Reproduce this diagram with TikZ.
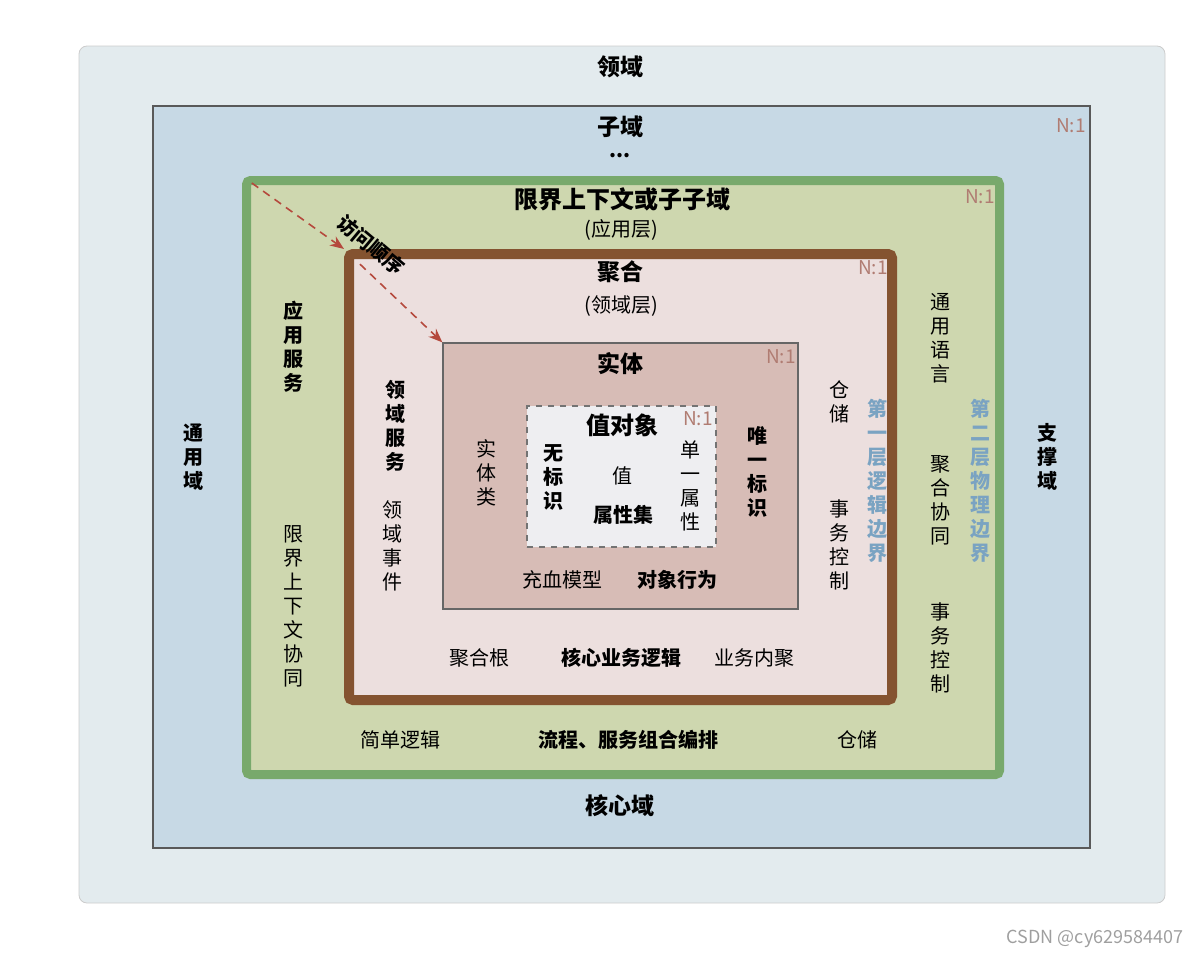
\documentclass[tikz,border=0pt]{standalone}
\usepackage{fontspec}
\usetikzlibrary{arrows.meta}
\setmainfont{Noto Sans CJK SC}
\definecolor{domainbg}{HTML}{E3EBEE}
\definecolor{subbg}{HTML}{C7D9E5}
\definecolor{ctxbg}{HTML}{CED7AF}
\definecolor{ctxline}{HTML}{78A96C}
\definecolor{aggbg}{HTML}{ECDFDE}
\definecolor{aggline}{HTML}{845330}
\definecolor{entbg}{HTML}{D7BCB6}
\definecolor{vobg}{HTML}{EEEEF1}
\definecolor{ratiocol}{HTML}{B07C72}
\definecolor{layercol}{HTML}{7AA3C2}
\definecolor{arrowcol}{HTML}{B5493D}
\begin{document}
\begin{tikzpicture}[
            x=0.5pt, y=-0.5pt,
            area/.style={
                rectangle,
                inner sep=0pt
            },
            title/.style={
                draw=none,
                font=\fontsize{11.5}{14}\selectfont\bfseries
            },
            bigtitle/.style={
                draw=none,
                font=\fontsize{12}{14}\selectfont\bfseries
            },
            item/.style={
                draw=none,
                inner sep=1pt,
                font=\fontsize{10}{12}\selectfont
            },
            bolditem/.style={
                item,
                font=\fontsize{10}{12}\selectfont\bfseries
            },
            vtext/.style={
                item,
                align=center
            },
            boldvtext/.style={
                bolditem,
                align=center
            },
            layer/.style={
                boldvtext,
                text=layercol
            },
            ratio/.style={
                draw=none,
                inner sep=0pt,
                text=ratiocol,
                font=\fontsize{9.5}{11}\selectfont
            },
            arrow/.style={->, >={Stealth[length=7pt,width=5.5pt]}, line width=0.8pt,
                draw=arrowcol, dash pattern=on 4pt off 3pt}
        ]
        \useasboundingbox (0,0) rectangle (1194,958);

        % Nested areas
        \node[area, fill=domainbg, draw=gray!40, rounded corners=4pt,
            minimum width=543pt, minimum height=428.5pt] (dom) at (622,474.5) {};
        \node[area, fill=subbg, draw=black!65, line width=0.6pt,
            minimum width=468.5pt, minimum height=371pt] (sub) at (621.5,477) {};
        \node[area, fill=ctxbg, draw=ctxline, line width=4.5pt, rounded corners=2pt,
            minimum width=376.5pt, minimum height=297pt] (ctx) at (623,477.5) {};
        \node[area, fill=aggbg, draw=aggline, line width=5pt, rounded corners=2pt,
            minimum width=271.5pt, minimum height=223pt] (agg) at (620.5,477) {};
        \node[area, fill=entbg, draw=black!60, line width=0.6pt,
            minimum width=177.5pt, minimum height=133pt] (ent) at (620.5,476) {};
        \node[area, fill=vobg, draw=black!55, dashed, line width=0.8pt,
            minimum width=94.5pt, minimum height=70.5pt] (vo) at (621.5,476.5) {};

        % Ratios
        \node[ratio] (r1) at (1071,126) {N:1};
        \node[ratio] (r2) at (980,197) {N:1};
        \node[ratio] (r3) at (873,268) {N:1};
        \node[ratio] (r4) at (781,357) {N:1};
        \node[ratio] (r5) at (698,419) {N:1};

        % Domain and subdomain
        \node[title] (t1) at (620,67) {领域};
        \node[title] (t2) at (620,127) {子域};
        \node[bolditem] (dots) at (620,156) {...};
        \node[boldvtext] (generic) at (193,457) {通\\用\\域};
        \node[boldvtext] (support) at (1047,457) {支\\撑\\域};
        \node[title] (core) at (620,806) {核心域};

        % Bounded context
        \node[bigtitle] (t3) at (622,199) {限界上下文或子子域};
        \node[item] (applayer) at (621,230) {(应用层)};
        \node[boldvtext] (appsvc) at (293,347) {应\\用\\服\\务};
        \node[vtext] (ctxcoop) at (293,606) {限\\界\\上\\下\\文\\协\\同};
        \node[vtext] (lang) at (940,338) {通\\用\\语\\言};
        \node[vtext] (aggcoop) at (940,500) {聚\\合\\协\\同};
        \node[vtext] (tx2) at (940,648) {事\\务\\控\\制};
        \node[layer] (phys) at (980,481) {第\\二\\层\\物\\理\\边\\界};
        \node[item] (simple) at (400,740) {简单逻辑};
        \node[bolditem] (flow) at (628,740) {流程、服务组合编排};
        \node[item] (repo2) at (857,740) {仓储};

        % Aggregate
        \node[title] (t4) at (620,272) {聚合};
        \node[item] (domlayer) at (621,306) {(领域层)};
        \node[boldvtext] (domsvc) at (395,426) {领\\域\\服\\务};
        \node[vtext] (domevt) at (392,546) {领\\域\\事\\件};
        \node[vtext] (repo1) at (839,402) {仓\\储};
        \node[vtext] (tx1) at (839,545) {事\\务\\控\\制};
        \node[layer] (logic) at (877,481) {第\\一\\层\\逻\\辑\\边\\界};
        \node[item] (root) at (479,658) {聚合根};
        \node[bolditem] (corelogic) at (621,658) {核心业务逻辑};
        \node[item] (cohesion) at (754,658) {业务内聚};

        % Entity
        \node[title] (t5) at (620,364) {实体};
        \node[vtext] (entcls) at (486,473) {实\\体\\类};
        \node[boldvtext] (uid) at (757,472) {唯\\一\\标\\识};
        \node[item] (rich) at (562,580) {充血模型};
        \node[bolditem] (behav) at (677,580) {对象行为};

        % Value object
        \node[bigtitle] (t6) at (622,425) {值对象};
        \node[boldvtext] (noid) at (553,477) {无\\标\\识};
        \node[item] (val) at (622,476) {值};
        \node[bolditem] (attrs) at (623,515) {属性集};
        \node[vtext] (single) at (690,486) {单\\一\\属\\性};

        % Access order
        \draw[arrow, shorten <=6pt] (ctx.north west) -- (agg.north west);
        \draw[arrow, shorten <=11pt] (agg.north west) -- (ent.north west);
        \node[bolditem, rotate=-40, inner sep=0pt, font=\fontsize{10}{12}\selectfont\bfseries]
            (order) at (371,245) {访问顺序};

        % Watermark
        \node[item, text=gray!75, font=\fontsize{9}{11}\selectfont] (mark) at (1095,939) {CSDN @cy629584407};

        \end{tikzpicture}
\end{document}
